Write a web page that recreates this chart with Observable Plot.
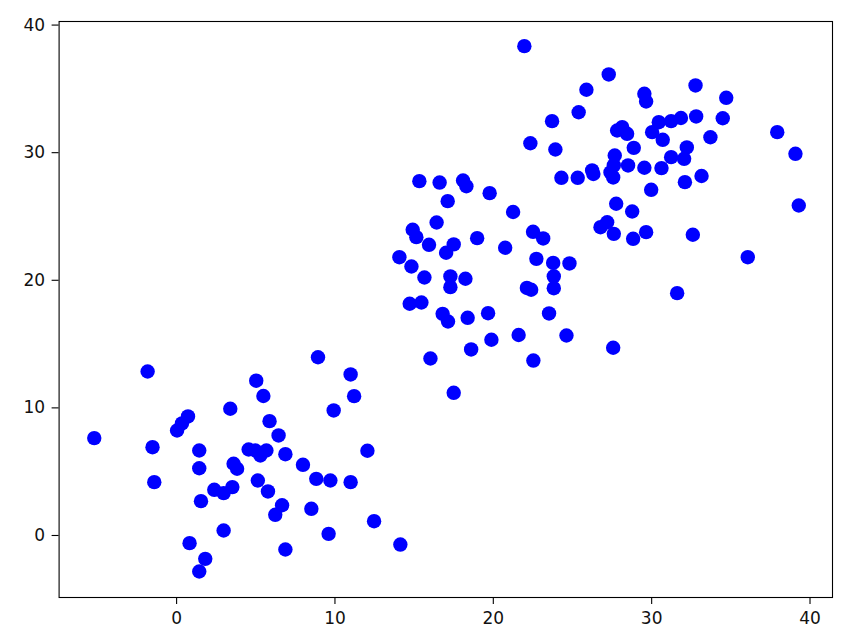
<!DOCTYPE html>
<html>
<head>
<meta charset="utf-8">
<script src="https://cdn.jsdelivr.net/npm/d3@7"></script>
<script src="https://cdn.jsdelivr.net/npm/@observablehq/plot@0.6"></script>
<style>
  html, body { margin: 0; padding: 0; background: #fff; }
</style>
</head>
<body>
<div id="chart"></div>
<script>
// Cluster 1 (lower left)
const cluster1X = [-5.20,-1.83,-1.52,-1.41,0.03,0.34,0.72,1.43,1.43,1.54,0.82,1.81,1.43,2.38,2.97,3.52,2.97,3.39,3.60,3.82,4.55,4.97,5.13,5.03,5.48,5.87,6.44,5.67,5.29,6.87,7.98,8.82,9.71,10.99,12.05,5.77,6.66,6.23,8.51,12.47,9.60,14.13,6.87,8.93,10.99,11.21,9.92];
const cluster1Y = [7.63,12.85,6.92,4.18,8.23,8.78,9.33,6.66,5.27,2.69,-0.60,-1.83,-2.82,3.58,3.32,3.79,0.39,9.93,5.62,5.23,6.74,6.66,4.31,12.13,10.93,8.96,7.84,6.66,6.27,6.37,5.54,4.44,4.31,4.18,6.64,3.45,2.37,1.62,2.09,1.12,0.13,-0.71,-1.10,13.97,12.62,10.92,9.80];

// Cluster 2 (middle)
const cluster2X = [15.33,16.61,18.09,18.30,19.77,17.12,21.25,16.42,14.91,15.14,15.94,17.50,17.02,18.98,20.75,22.51,23.15,14.07,14.83,15.65,17.29,18.24,17.29,22.72,23.78,24.81,23.82,23.82,22.12,22.39,14.72,15.46,16.80,17.14,18.38,19.67,23.52,21.60,24.62,19.88,18.60,16.03,22.53,17.50,21.96];
const cluster2Y = [27.77,27.66,27.82,27.37,26.83,26.20,25.35,24.53,23.96,23.38,22.78,22.81,22.16,23.30,22.55,23.80,23.28,21.81,21.08,20.22,20.30,20.12,19.46,21.68,21.36,21.32,20.31,19.38,19.40,19.26,18.16,18.26,17.37,16.77,17.06,17.42,17.40,15.71,15.67,15.34,14.58,13.87,13.71,11.18,38.35];

// Cluster 3 (upper right)
const cluster3X = [22.34,23.71,23.92,25.39,25.88,27.29,29.54,29.65,28.14,27.82,28.45,28.87,27.67,27.61,28.51,29.54,30.62,27.57,27.40,26.24,26.32,25.33,24.30,30.03,30.45,31.23,31.85,32.81,32.77,34.49,34.71,30.70,31.23,32.22,32.05,33.71,37.93,39.08,39.29,33.15,32.10,29.97,27.76,28.77,26.77,27.19,27.61,28.83,29.65,32.60,36.07,31.61,27.57];
const cluster3Y = [30.74,32.47,30.25,33.17,34.93,36.13,34.62,34.01,32.00,31.74,31.48,30.38,29.78,29.00,29.00,28.82,28.79,28.06,28.45,28.61,28.33,28.03,28.03,31.61,32.39,32.47,32.72,32.84,35.27,32.70,34.30,31.01,29.65,30.41,29.52,31.21,31.61,29.91,25.86,28.17,27.69,27.09,26.00,25.39,24.16,24.55,23.64,23.25,23.77,23.57,21.81,18.99,14.71];

const xTicks = [0, 10, 20, 30, 40];
const yTicks = [0, 10, 20, 30, 40];

const points = [];
[[cluster1X, cluster1Y], [cluster2X, cluster2Y], [cluster3X, cluster3Y]].forEach(([xs, ys]) => {
  xs.forEach((x, i) => points.push({x, y: ys[i]}));
});

const chart = Plot.plot({
  width: 860,
  height: 644,
  marginLeft: 58.6,
  marginRight: 28,
  marginTop: 21,
  marginBottom: 47,
  style: {fontFamily: "DejaVu Sans", fontSize: "17px", color: "#111", background: "white"},
  x: {domain: [-7.42, 41.42], ticks: xTicks, tickFormat: d => String(d), label: null},
  y: {domain: [-4.86, 40.28], ticks: yTicks, tickFormat: d => String(d), label: null},
  marks: [
    Plot.axisX({ticks: xTicks, tickSize: 7, tickPadding: 7, stroke: "black", strokeWidth: 1.1, strokeOpacity: 1, fill: "#111", label: null}),
    Plot.axisY({ticks: yTicks, tickSize: 7, tickPadding: 7, stroke: "black", strokeWidth: 1.1, strokeOpacity: 1, fill: "#111", label: null}),
    Plot.dot(points, {x: "x", y: "y", r: 7.2, fill: "#0000ff", stroke: "none"}),
    Plot.frame({stroke: "black", strokeWidth: 1.1})
  ]
});
document.getElementById("chart").appendChild(chart);
</script>
</body>
</html>
